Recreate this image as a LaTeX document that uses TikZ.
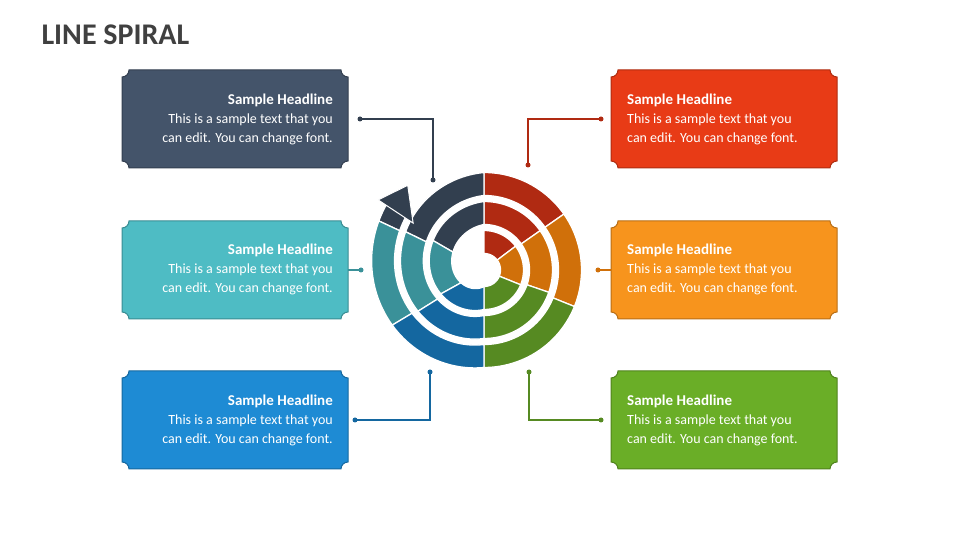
\documentclass[tikz,border=0pt]{standalone}
\usepackage{fontspec}
\setmainfont{Carlito}
\definecolor{navy}{RGB}{50,63,79}
\definecolor{tealc}{RGB}{58,145,153}
\definecolor{bluec}{RGB}{20,103,160}
\definecolor{redc}{RGB}{176,42,18}
\definecolor{orangec}{RGB}{208,112,10}
\definecolor{greenc}{RGB}{86,138,34}
\definecolor{bnavy}{RGB}{68,84,106}
\definecolor{bteal}{RGB}{78,188,196}
\definecolor{bblue}{RGB}{30,139,212}
\definecolor{bred}{RGB}{232,59,22}
\definecolor{borange}{RGB}{247,148,29}
\definecolor{bgreen}{RGB}{106,174,39}
\newcommand{\boxshape}[5]{% color, l, b, r, t
  \fill[#1, draw=#1!75!black, line width=1pt]
   ({#2+7},#5) -- ({#4-7},#5) arc(180:270:7) -- (#4,{#3+7}) arc(90:180:7)
   -- ({#2+7},#3) arc(0:90:7) -- (#2,{#5-7}) arc(270:360:7) -- cycle;}
\newcommand{\seg}[5]{% color, a, b, rtop, rbot
  \fill[#1, draw=white, line width=1.3pt]
   plot[domain=#2:#3, samples=40] ({484+(#4+(#5-#4)*(\x-90)/180+11.5)*cos(\x)},{270+(#4+(#5-#4)*(\x-90)/180+11.5)*sin(\x)})
   -- plot[domain=#3:#2, samples=40] ({484+(#4+(#5-#4)*(\x-90)/180-11.5)*cos(\x)},{270+(#4+(#5-#4)*(\x-90)/180-11.5)*sin(\x)})
   -- cycle;}
\tikzset{head/.style={font=\bfseries\fontsize{15}{18}\selectfont,text=white,inner sep=0pt},
 body/.style={font=\fontsize{14}{19}\selectfont,text=white,inner sep=0pt,align=#1},
 dotc/.style={circle,fill=#1,inner sep=0pt,minimum size=5pt},
 conn/.style={draw=#1,line width=1.2pt}}
\begin{document}
\begin{tikzpicture}[x=1pt,y=1pt]
\useasboundingbox (0,0) rectangle (960,540);
\node[anchor=west,font=\bfseries\fontsize{30}{34}\selectfont,text=black!75] (title) at (38,505) {LINE SPIRAL};
% boxes
\boxshape{bnavy}{122}{372}{348}{470}
\boxshape{bteal}{122}{221}{348}{319}
\boxshape{bblue}{122}{71}{348}{169}
\boxshape{bred}{611}{372}{837}{470}
\boxshape{borange}{611}{221}{837}{319}
\boxshape{bgreen}{611}{71}{837}{169}
% texts
\foreach \n/\y in {a/440,b/290,c/139}{
  \node[head,anchor=east] (h\n) at (333,\y) {Sample Headline};
  \node[body=right,anchor=north east] (t\n) at (333,\y-14) {This is a sample text that you\\can edit. You can change font.};
}
\foreach \n/\y in {d/440,e/290,f/139}{
  \node[head,anchor=west] (h\n) at (627,\y) {Sample Headline};
  \node[body=left,anchor=north west] (t\n) at (627,\y-14) {This is a sample text that you\\can edit. You can change font.};
}
% spiral right half
\seg{redc}{35}{90}{86}{86}\seg{orangec}{-22}{35}{86}{86}\seg{greenc}{-90}{-22}{86}{86}
\seg{redc}{35}{90}{57}{57}\seg{orangec}{-19}{35}{57}{57}\seg{greenc}{-90}{-19}{57}{57}
\seg{redc}{37}{90}{28}{28}\seg{orangec}{-22}{37}{28}{28}\seg{greenc}{-90}{-22}{28}{28}
% left half
\seg{navy}{90}{150}{57}{28}\seg{tealc}{150}{209}{57}{28}\seg{bluec}{209}{270}{57}{28}
\seg{navy}{90}{154}{86}{57}\seg{tealc}{154}{212}{86}{57}\seg{bluec}{212}{270}{86}{57}
\seg{navy}{146}{155}{115}{86}\seg{tealc}{155}{211}{115}{86}\seg{bluec}{211}{270}{115}{86}
\fill[navy, draw=white, line width=1pt]
 ({484+(106-21)*cos(146.5)},{270+(106-21)*sin(146.5)}) --
 ({484+(106+21)*cos(146.5)},{270+(106+21)*sin(146.5)}) --
 ({484+114*cos(132)},{270+114*sin(132)}) -- cycle;
% connectors
\coordinate (a1) at (360,421); \coordinate (a2) at (433,360);
\draw[conn=navy] (a1) -| (a2); \node[dotc=navy] (da1) at (a1) {}; \node[dotc=navy] (da2) at (a2) {};
\coordinate (d1) at (601,421); \coordinate (d2) at (528,375);
\draw[conn=redc] (d1) -| (d2); \node[dotc=redc] (dd1) at (d1) {}; \node[dotc=redc] (dd2) at (d2) {};
\coordinate (b1) at (361,270); \coordinate (b2) at (348,270);
\draw[conn=tealc] (b1) -- (b2); \node[dotc=tealc] (db1) at (b1) {};
\coordinate (e1) at (598,270); \coordinate (e2) at (611,270);
\draw[conn=orangec] (e1) -- (e2); \node[dotc=orangec] (de1) at (e1) {};
\coordinate (c1) at (355,120); \coordinate (c2) at (430,168);
\draw[conn=bluec] (c1) -| (c2); \node[dotc=bluec] (dc1) at (c1) {}; \node[dotc=bluec] (dc2) at (c2) {};
\coordinate (f1) at (601,120); \coordinate (f2) at (529,168);
\draw[conn=greenc] (f1) -| (f2); \node[dotc=greenc] (df1) at (f1) {}; \node[dotc=greenc] (df2) at (f2) {};
\end{tikzpicture}
\end{document}
